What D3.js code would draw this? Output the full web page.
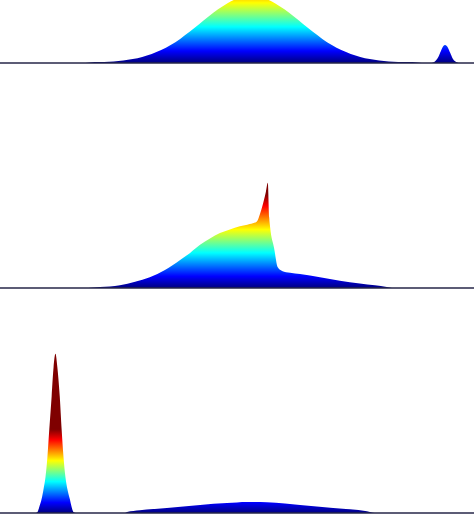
<!DOCTYPE html>
<html>
<head>
<meta charset="utf-8">
<script src="https://cdn.jsdelivr.net/npm/d3@7"></script>
<style>
  html, body { margin: 0; padding: 0; background: #fff; }
  svg { display: block; }
</style>
</head>
<body>
<div id="chart"></div>
<script>
// panel 1: broad bump + small side peak
var x1 = [0, 1.8, 2.0, 2.2, 2.4, 2.6, 2.8, 3.0, 3.2, 3.4, 3.6, 3.8, 4.0, 4.2, 4.4, 4.6, 4.8, 5.0, 5.2,
          5.4, 5.6, 5.8, 6.0, 6.2, 6.4, 6.6, 6.8, 7.0, 7.2, 7.4, 7.6, 7.8, 8.0, 8.2, 8.4, 8.6, 8.8, 8.9,
          9.1, 9.2, 9.25, 9.3, 9.35, 9.39, 9.45, 9.5, 9.55, 9.6, 9.7, 10];
var y1 = [0, 0, 0.01, 0.012, 0.016, 0.027, 0.044, 0.068, 0.101, 0.145, 0.201, 0.268, 0.346, 0.43, 0.516, 0.597, 0.665, 0.715, 0.742,
          0.742, 0.715, 0.665, 0.597, 0.516, 0.43, 0.346, 0.268, 0.201, 0.145, 0.101, 0.068, 0.044, 0.027, 0.016, 0.012, 0.01, 0.006, 0,
          0, 0.03, 0.07, 0.13, 0.185, 0.2, 0.17, 0.11, 0.05, 0.02, 0, 0];

// panel 2: skewed bump with a sharp spike
var x2 = [0, 1.86, 2.11, 2.53, 2.85, 3.16, 3.48, 3.80, 4.01, 4.22, 4.43, 4.64, 4.85, 5.06, 5.27, 5.42, 5.49, 5.57, 5.61, 5.65,
          5.68, 5.70, 5.78, 5.86, 5.95, 6.12, 6.33, 6.75, 7.17, 7.59, 7.91, 8.16, 8.27, 10];
var y2 = [0, 0, 0.01, 0.03, 0.07, 0.12, 0.2, 0.31, 0.39, 0.48, 0.55, 0.61, 0.65, 0.685, 0.71, 0.74, 0.83, 0.98, 1.07, 1.17,
          0.78, 0.67, 0.45, 0.23, 0.19, 0.17, 0.155, 0.12, 0.08, 0.05, 0.03, 0.01, 0, 0];

// panel 3: tall narrow peak + low wide bump
var x3 = [0, 0.75, 0.79, 0.83, 0.88, 0.92, 0.96, 1.00, 1.04, 1.09, 1.13, 1.17, 1.21, 1.26, 1.30, 1.34, 1.38, 1.42, 1.47, 1.51, 1.55, 1.6,
          2.64, 2.68, 2.95, 3.52, 4.22, 4.79, 5.21, 5.63, 6.01, 6.33, 7.03, 7.74, 7.91, 10];
var y3 = [0, 0, 0.01, 0.07, 0.16, 0.27, 0.40, 0.62, 0.93, 1.30, 1.62, 1.77, 1.62, 1.30, 0.93, 0.62, 0.40, 0.27, 0.16, 0.07, 0.01, 0,
          0, 0.01, 0.03, 0.055, 0.09, 0.11, 0.122, 0.12, 0.105, 0.09, 0.055, 0.02, 0, 0];

// value at which each panel's colormap reaches dark red
var colorTop = [1.07, 1.04, 0.93];

var panels = [
  { xs: x1, ys: y1 },
  { xs: x2, ys: y2 },
  { xs: x3, ys: y3 }
];

// jet colormap stops
var jetOffsets = [0, 0.125, 0.375, 0.625, 0.875, 1];
var jetColors = ['#00007f', '#0000ff', '#00ffff', '#ffff00', '#ff0000', '#7f0000'];

var width = 474;
var height = 514;
var panelH = 225;

var svg = d3.select('#chart').append('svg')
    .attr('width', width)
    .attr('height', height);

var x = d3.scaleLinear().domain([0, 10]).range([0, width]);
var y = d3.scaleLinear().domain([0, 2.5]).range([panelH, 0]);

var defs = svg.append('defs');

var area = d3.area()
    .x(function (d) { return x(d[0]); })
    .y0(y(0))
    .y1(function (d) { return y(d[1]); })
    .curve(d3.curveMonotoneX);

panels.forEach(function (p, i) {
    var grad = defs.append('linearGradient')
        .attr('id', 'jet' + i)
        .attr('gradientUnits', 'userSpaceOnUse')
        .attr('x1', 0).attr('x2', 0)
        .attr('y1', y(0)).attr('y2', y(colorTop[i]));

    grad.selectAll('stop')
        .data(jetOffsets)
        .enter().append('stop')
        .attr('offset', function (d) { return d; })
        .attr('stop-color', function (d, k) { return jetColors[k]; });

    var g = svg.append('g')
        .attr('transform', 'translate(0,' + (i * panelH - 162) + ')');

    var pts = p.xs.map(function (v, k) { return [v, p.ys[k]]; });

    g.append('path')
        .attr('d', area(pts))
        .style('fill', 'url(#jet' + i + ')');

    // baseline
    g.append('line')
        .attr('x1', x(0)).attr('x2', x(10))
        .attr('y1', y(0)).attr('y2', y(0))
        .style('stroke', '#262648')
        .style('stroke-width', 1.6);
});
</script>
</body>
</html>
